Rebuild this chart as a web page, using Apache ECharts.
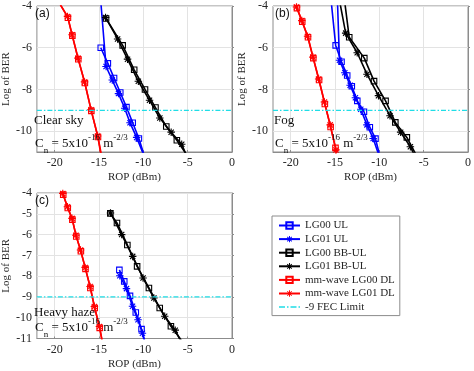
<!DOCTYPE html>
<html><head><meta charset="utf-8">
<script src="https://cdn.jsdelivr.net/npm/echarts@6/dist/echarts.min.js"></script>
<style>html,body{margin:0;padding:0;background:#fff}#c{width:474px;height:371px}</style>
</head><body><div id="c"></div>
<script>
// ---- axis ticks ----
const xTicks = [-20, -15, -10, -5, 0];
const yTicksAB = [-10, -8, -6, -4];
const yTicksC = [-11, -10, -9, -8, -7, -6, -5, -4];
const fecLevel = -9;
const seriesNames = ['LG00 UL', 'LG01 UL', 'LG00 BB-UL', 'LG01 BB-UL', 'mm-wave LG00 DL', 'mm-wave LG01 DL', '-9 FEC Limit'];
const panelTitles = ['(a)', '(b)', '(c)'];
const panelWeather = ['Clear sky', 'Fog', 'Heavy haze'];

// ---- panel (a) Clear sky : [ROP dBm, log BER] ----
const a_LG00_UL = [[-14.8,-6.0],[-14.0,-6.75],[-13.3,-7.45],[-12.6,-8.15],[-11.9,-8.85],[-11.2,-9.6],[-10.5,-10.35],[-9.95,-11.1]];
const a_LG01_UL = [[-14.85,-3.5],[-14.2,-6.9],[-13.5,-7.55],[-12.8,-8.2],[-12.1,-8.9],[-11.5,-9.6],[-10.75,-10.3],[-10.0,-11.1]];
const a_LG00_BBUL = [[-14.2,-4.6],[-12.33,-5.89],[-11.03,-7.06],[-9.81,-8.0],[-8.63,-8.87],[-7.41,-9.78],[-6.22,-10.44],[-5.0,-11.2]];
const a_LG01_BBUL = [[-14.26,-4.55],[-12.9,-5.58],[-11.78,-6.55],[-10.56,-7.61],[-9.3,-8.52],[-8.14,-9.37],[-6.86,-10.05],[-5.67,-10.63],[-5.2,-11.1]];
const a_DL_LG00 = [[-19.35,-3.95],[-18.5,-4.56],[-18.0,-5.42],[-17.33,-6.55],[-16.59,-7.69],[-15.86,-9.03],[-15.11,-10.28],[-14.7,-11.2]];
const a_DL_LG01 = [[-19.4,-3.9],[-18.55,-4.5],[-18.04,-5.38],[-17.37,-6.5],[-16.63,-7.64],[-15.9,-8.97],[-15.15,-10.23],[-14.75,-11.2]];

// ---- panel (b) Fog ----
const b_LG00_UL = [[-15.5,-3.5],[-14.93,-5.89],[-14.27,-6.67],[-13.63,-7.33],[-13.11,-7.85],[-12.49,-8.55],[-11.74,-9.07],[-11.08,-9.81],[-10.44,-10.36],[-10.0,-11.1]];
const b_LG01_UL = [[-14.75,-3.5],[-14.5,-6.6],[-13.9,-7.2],[-13.3,-7.8],[-12.7,-8.4],[-12.1,-8.95],[-11.4,-9.7],[-10.7,-10.35],[-10.1,-11.1]];
const b_LG00_BBUL = [[-14.0,-3.5],[-13.4,-5.5],[-11.7,-6.5],[-10.6,-7.6],[-9.3,-8.55],[-8.2,-9.58],[-6.9,-10.3],[-5.9,-11.1]];
const b_LG01_BBUL = [[-14.6,-3.5],[-13.8,-5.3],[-12.5,-6.24],[-11.4,-7.27],[-10.1,-8.3],[-8.8,-9.26],[-7.6,-10.05],[-6.5,-10.75],[-6.1,-11.1]];
const b_DL_LG00 = [[-19.3,-4.1],[-18.7,-4.75],[-18.05,-5.5],[-17.45,-6.5],[-16.8,-7.55],[-16.15,-8.7],[-15.5,-9.8],[-14.95,-10.8],[-14.75,-11.2]];
const b_DL_LG01 = [[-19.35,-4.05],[-18.75,-4.7],[-18.1,-5.45],[-17.5,-6.45],[-16.85,-7.5],[-16.2,-8.6],[-15.55,-9.7],[-14.9,-10.9],[-14.8,-11.2]];

// ---- panel (c) Heavy haze ----
const c_LG00_UL = [[-12.7,-7.7],[-12.15,-8.25],[-11.5,-8.95],[-10.85,-9.75],[-10.2,-10.55],[-9.85,-11.1]];
const c_LG01_UL = [[-12.65,-7.98],[-11.9,-8.6],[-11.22,-9.45],[-10.6,-10.1],[-10.1,-10.75],[-9.9,-11.1]];
const c_LG00_BBUL = [[-13.72,-4.98],[-12.97,-5.44],[-11.8,-6.5],[-10.7,-7.53],[-9.37,-8.57],[-8.15,-9.53],[-6.89,-10.41],[-5.5,-11.2]];
const c_LG01_BBUL = [[-13.7,-4.96],[-12.44,-6.0],[-11.2,-7.05],[-10.03,-8.09],[-8.81,-9.05],[-7.59,-9.93],[-6.4,-10.6],[-5.7,-11.2]];
const c_DL_LG00 = [[-19.03,-4.08],[-18.52,-4.72],[-18.0,-5.28],[-17.56,-6.09],[-17.04,-6.8],[-16.52,-7.65],[-15.97,-8.57],[-15.48,-9.53],[-14.92,-10.49],[-14.6,-11.2]];
const c_DL_LG01 = [[-19.08,-4.02],[-18.56,-4.66],[-18.04,-5.22],[-17.6,-6.03],[-17.08,-6.74],[-16.56,-7.58],[-16.0,-8.5],[-15.52,-9.46],[-14.95,-10.42],[-14.62,-11.2]];

// ---------------------------------------------------------------
const panels = [
  [a_LG00_UL, a_LG01_UL, a_LG00_BBUL, a_LG01_BBUL, a_DL_LG00, a_DL_LG01],
  [b_LG00_UL, b_LG01_UL, b_LG00_BBUL, b_LG01_BBUL, b_DL_LG00, b_DL_LG01],
  [c_LG00_UL, c_LG01_UL, c_LG00_BBUL, c_LG01_BBUL, c_DL_LG00, c_DL_LG01]
];
const STAR = 'path://M8.5,0L11.5,0L11.5,20L8.5,20Z M0,8.5L20,8.5L20,11.5L0,11.5Z M4.06,1.94L18.06,15.94L15.94,18.06L1.94,4.06Z M1.94,15.94L15.94,1.94L18.06,4.06L4.06,18.06Z';
const DASHDOT = 'path://M0,0L6,0L6,1.5L0,1.5Z M8,0L9.5,0L9.5,1.5L8,1.5Z M11.5,0L17.5,0L17.5,1.5L11.5,1.5Z M19.5,0L21,0L21,1.5L19.5,1.5Z';
const colors = ['#0000ff', '#0000ff', '#000000', '#000000', '#ff0000', '#ff0000'];
const isStar = [false, true, false, true, false, true];
const serif = 'Liberation Serif';
const AX = '#8c8c8c', GRID = '#e3e3e3', TXT = '#262626', FEC = '#1fdde6';

const grids = [
  {left: 33, top: 3.5, width: 199, height: 148.5},
  {left: 273, top: 3.5, width: 199, height: 148.5},
  {left: 33, top: 193, width: 199, height: 145.5}
].map(g => Object.assign(g, {show: true, borderColor: AX, borderWidth: 1, backgroundColor: '#fff', containLabel: false}));

const xAxes = [0, 1, 2].map(i => ({
  type: 'value', gridIndex: i, min: -22, max: 0,
  name: 'ROP (dBm)', nameLocation: 'middle', nameGap: 20,
  nameTextStyle: {fontFamily: serif, fontSize: 11, color: TXT},
  axisLine: {show: true, lineStyle: {color: AX}},
  axisTick: {show: true, inside: true, length: 2, customValues: xTicks, lineStyle: {color: AX}},
  axisLabel: {customValues: xTicks, fontFamily: serif, fontSize: 12, color: TXT, margin: 5},
  splitLine: {show: true, lineStyle: {color: GRID}}
}));
const yAxes = [0, 1, 2].map(i => {
  const t = i === 2 ? yTicksC : yTicksAB;
  return {
    type: 'value', gridIndex: i, min: -11, max: -4,
    name: 'Log of BER', nameLocation: 'middle', nameGap: 20,
    nameTextStyle: {fontFamily: serif, fontSize: 11, color: TXT},
    axisLine: {show: true, lineStyle: {color: AX}},
    axisTick: {show: true, inside: true, length: 2, customValues: t, lineStyle: {color: AX}},
    axisLabel: {customValues: t, fontFamily: serif, fontSize: 12, color: TXT, margin: 5},
    splitLine: {show: true, lineStyle: {color: GRID}}
  };
});

const series = [];
panels.forEach((arr, p) => {
  arr.forEach((d, k) => {
    series.push({
      type: 'line', name: seriesNames[k], xAxisIndex: p, yAxisIndex: p, data: d,
      symbol: isStar[k] ? STAR : 'rect', symbolSize: isStar[k] ? 7.5 : 5.5,
      showAllSymbol: true, clip: true, animation: false,
      lineStyle: {color: colors[k], width: 1.6},
      itemStyle: isStar[k] ? {color: colors[k]} : {color: 'rgba(255,255,255,0)', borderColor: colors[k], borderWidth: 1.1},
      z: 3 + k
    });
  });
  series.push({
    type: 'line', name: seriesNames[6], xAxisIndex: p, yAxisIndex: p,
    data: [[-22, fecLevel], [0, fecLevel]], symbol: 'none', animation: false,
    lineStyle: {color: FEC, width: 1.3, type: [5, 2, 1.5, 2]}, itemStyle: {color: FEC}, z: 10
  });
});

const graphic = [];
const tpos = [[35, 8], [275, 8], [35, 195]];
const wpos = [[34, 114], [274, 114], [34, 306]];
const cpos = [[35, 133], [275, 133], [35, 317]];
for (let p = 0; p < 3; p++) {
  graphic.push({type: 'text', left: tpos[p][0], top: tpos[p][1], z: 100,
    style: {text: panelTitles[p], font: '12px "Liberation Sans"', fill: '#111'}});
  graphic.push({type: 'text', left: wpos[p][0], top: wpos[p][1], z: 100,
    style: {text: panelWeather[p], font: '13px "Liberation Serif"', fill: '#111'}});
  graphic.push({type: 'text', left: cpos[p][0], top: cpos[p][1], z: 100,
    style: {text: '{m|C}{sub|n}{m| = 5x10}{sup|-16}{m| m}{sup|-2/3}', fill: '#111',
      rich: {
        m: {fontFamily: serif, fontSize: 13, lineHeight: 22, verticalAlign: 'middle', fill: '#111'},
        sub: {fontFamily: serif, fontSize: 9, lineHeight: 12, verticalAlign: 'bottom', fill: '#111'},
        sup: {fontFamily: serif, fontSize: 9, lineHeight: 9, verticalAlign: 'top', fill: '#111'}
      }}});
}

const legendData = seriesNames.map((n, i) => i === 6 ? {name: n, icon: DASHDOT} : {name: n});

const chart = echarts.init(document.getElementById('c'), null, {renderer: 'canvas'});
chart.setOption({
  animation: false,
  grid: grids, xAxis: xAxes, yAxis: yAxes, series: series, graphic: graphic,
  legend: {
    data: legendData, orient: 'vertical', left: 272, top: 216,
    itemWidth: 21, itemHeight: 8, itemGap: 2.6,
    backgroundColor: '#fff', borderColor: AX, borderWidth: 1, padding: [4, 5, 3, 6],
    textStyle: {fontFamily: serif, fontSize: 11, color: TXT, lineHeight: 10},
    selectedMode: false
  }
});
</script></body></html>
